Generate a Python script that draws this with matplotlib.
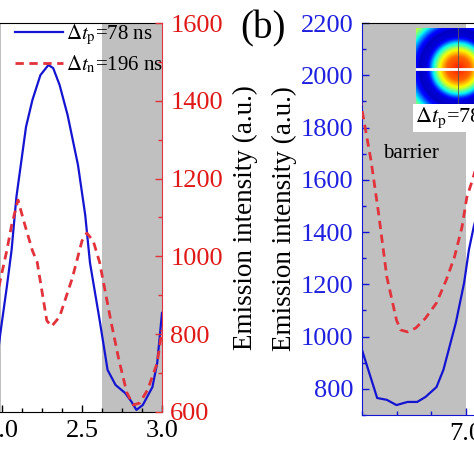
import numpy as np
import matplotlib
matplotlib.use("Agg")
from matplotlib import pyplot as plt
from matplotlib.lines import Line2D
from matplotlib.ticker import MultipleLocator, FormatStrFormatter

plt.rcParams["font.family"] = ["Liberation Serif", "DejaVu Serif"]
plt.rcParams["mathtext.fontset"] = "stix"

BLUE = "#1414d2"
RED = "#e2323c"
RED_TXT = "#e01818"
BLUE_TXT = "#2020e0"
GREY = "#c0c0c0"

# panel (a): position and emission of the two pulses
xa_p = [1.95, 1.99, 2.03, 2.06, 2.09, 2.15, 2.19, 2.24, 2.29, 2.32, 2.36, 2.41,
        2.475, 2.52, 2.55, 2.61, 2.66, 2.71, 2.77, 2.81, 2.84, 2.88, 2.94, 2.97, 3.00]
ya_p = [800, 1005, 1182, 1325, 1529, 1799, 1903, 1999, 2038, 2026, 1961, 1845,
        1652, 1460, 1275, 1055, 862, 804, 773, 739, 708, 727, 796, 889, 1082]
xa_n = [1.95, 1.99, 2.03, 2.06, 2.10, 2.14, 2.19, 2.22, 2.28, 2.31, 2.36, 2.44,
        2.50, 2.53, 2.57, 2.61, 2.68, 2.73, 2.78, 2.82, 2.86, 2.91, 2.97, 3.00]
ya_n = [860, 940, 1015, 1080, 1145, 1085, 1015, 985, 835, 820, 845, 945,
        1040, 1060, 1040, 985, 835, 735, 650, 618, 623, 657, 726, 811]

# panel (b)
xb_p = [6.20, 6.25, 6.36, 6.43, 6.50, 6.58, 6.65, 6.71, 6.79, 6.84, 6.93, 6.99, 7.025, 7.06, 7.10]
yb_p = [1050, 949, 765, 758, 738, 750, 750, 769, 807, 873, 1053, 1206, 1333, 1421, 1500]
xb_n = [6.20, 6.25, 6.315, 6.37, 6.43, 6.50, 6.53, 6.58, 6.64, 6.71, 6.79, 6.86,
        6.92, 6.975, 7.01, 7.05, 7.10]
yb_n = [1480, 1378, 1250, 1115, 952, 842, 817, 812, 822, 847, 886, 944,
        1003, 1080, 1156, 1199, 1260]

# inset: radial profile of the emission spot (radius in px, jet value)
ring_r = [0, 12, 17, 20, 23, 26, 29, 32, 39, 44, 50, 56, 62, 70]
ring_v = [0.88, 0.80, 0.68, 0.60, 0.45, 0.33, 0.18, 0.08, 0.06, 0.15, 0.35, 0.55, 0.62, 0.65]

W = 474.0
fig = plt.figure(figsize=(4.74, 4.74), dpi=100)


def style_ticks(ax, color, which_axis):
    ax.tick_params(axis=which_axis, which="both", direction="in", colors=color,
                   labelsize=19, pad=6)
    ax.tick_params(axis=which_axis, which="major", length=5, width=1)
    ax.tick_params(axis=which_axis, which="minor", length=3, width=1)


# ---- panel (a) ----
axA = fig.add_axes([-78 / W, 62 / W, 240 / W, 389 / W])
axA.axvspan(1.5, 1.995, color=GREY, lw=0)
axA.axvspan(2.625, 3.0, color=GREY, lw=0)
axA.plot(xa_p, ya_p, color=BLUE, lw=1.6)
axA.set_xlim(1.5, 3.0)
axA.set_ylim(700, 2200)
axA.xaxis.set_major_locator(MultipleLocator(0.5))
axA.xaxis.set_minor_locator(MultipleLocator(0.125))
axA.xaxis.set_major_formatter(FormatStrFormatter("%.1f"))
style_ticks(axA, "black", "x")
axA.tick_params(axis="x", pad=6)
axA.spines["right"].set_visible(False)
axA.tick_params(axis="y", left=False, labelleft=False)

axA2 = axA.twinx()
axA2.plot(xa_n, ya_n, color=RED, lw=2, ls=(0, (3, 2)))
axA2.set_ylim(600, 1600)
axA2.yaxis.set_major_locator(MultipleLocator(200))
axA2.yaxis.set_minor_locator(MultipleLocator(100))
style_ticks(axA2, RED, "y")
axA2.tick_params(axis="y", labelcolor=RED_TXT)
for s in ["left", "top", "bottom"]:
    axA2.spines[s].set_visible(False)
axA2.spines["right"].set_color(RED)
axA2.set_ylabel("Emission intensity (a.u.)", fontsize=19.5, labelpad=7)

handles = [Line2D([], [], color=BLUE, lw=1.6),
           Line2D([], [], color=RED, lw=2, ls=(0, (3, 2)))]
labels = [r"$\Delta t_{\rm p}$=78 ns", r"$\Delta t_{\rm n}$=196 ns"]
fig.legend(handles, labels, loc="upper left", bbox_to_anchor=(15 / W, 1 - 23 / W),
           frameon=False, fontsize=15, handlelength=2.3, handletextpad=0.15,
           borderpad=0, borderaxespad=0, labelspacing=0.3)

# ---- panel (b) ----
axB = fig.add_axes([362 / W, 59 / W, 172.5 / W, 392 / W])
axB.axvspan(6.2, 7.0, color=GREY, lw=0)
axB.plot(xb_p, yb_p, color=BLUE, lw=1.6)
axB.set_xlim(6.25, 7.5)
axB.set_ylim(700, 2200)
axB.xaxis.set_major_locator(MultipleLocator(1.0))
axB.xaxis.set_minor_locator(MultipleLocator(0.25))
axB.xaxis.set_major_formatter(FormatStrFormatter("%.1f"))
axB.yaxis.set_major_locator(MultipleLocator(200))
axB.yaxis.set_minor_locator(MultipleLocator(100))
style_ticks(axB, BLUE, "y")
style_ticks(axB, BLUE, "x")
axB.tick_params(axis="y", labelcolor=BLUE_TXT)
axB.tick_params(axis="x", labelcolor="black", pad=6)
axB.spines["left"].set_color(BLUE)
axB.spines["bottom"].set_color(BLUE)
axB.spines["right"].set_visible(False)
axB.set_ylabel("Emission intensity (a.u.)", fontsize=19.5, labelpad=3)

axB2 = axB.twinx()
axB2.plot(xb_n, yb_n, color=RED, lw=2, ls=(0, (3, 2)))
axB2.set_ylim(600, 1600)
axB2.tick_params(axis="y", right=False, labelright=False)
for s in ["left", "top", "bottom"]:
    axB2.spines[s].set_visible(False)

fig.text(240 / W, 1 - 29 / W, "(b)", fontsize=28, ha="left", va="center")
fig.text(411 / W, 1 - 153 / W, "barrier", fontsize=15, ha="center", va="center")

# inset spot image
axI = fig.add_axes([416 / W, 367 / W, 84 / W, 79 / W])
yy, xx = np.mgrid[0:79, 0:84]
rad = np.hypot(xx - 42, yy - 40)
spot = np.interp(rad, ring_r, ring_v)
axI.imshow(spot, cmap="jet", vmin=0, vmax=1, aspect="auto")
axI.axhline(40, color="white", lw=2)
axI.axvline(41, color="#555555", lw=0.6)
axI.set_axis_off()
fig.text(415 / W, 1 - 118 / W, r"$\Delta t_{\rm p}$=78 ns", fontsize=16,
         ha="left", va="center",
         bbox=dict(facecolor="white", edgecolor="none", pad=1.5))

fig.savefig("out.png", dpi=100)
